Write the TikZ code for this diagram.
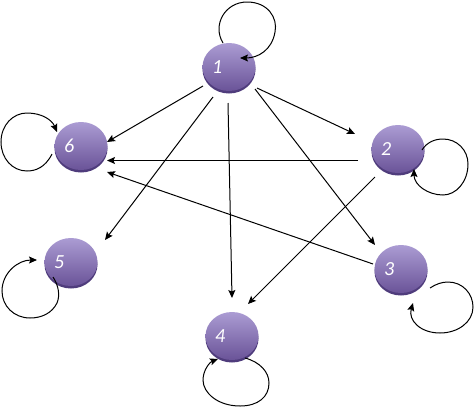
\documentclass[tikz,border=0pt]{standalone}
\usepackage{fontspec}
\newfontfamily\lblfont{Carlito}
\usetikzlibrary{arrows.meta,calc,shapes.geometric}
\definecolor{ntop}{HTML}{AB9CD3}
\definecolor{nmid}{HTML}{7C64AA}
\definecolor{nbot}{HTML}{6A5398}
\definecolor{nrim}{HTML}{4F3C7C}
\begin{document}
\begin{tikzpicture}[x=1pt,y=-1pt,
  state/.style={ellipse, minimum width=53pt, minimum height=48pt, inner sep=0pt,
    top color=ntop, middle color=nmid, bottom color=nbot,
    preaction={fill=nrim, transform canvas={yshift=-2.5pt}},
    font=\lblfont\itshape\fontsize{20}{24}\selectfont, text=white},
  edge/.style={line width=1pt, -{Stealth[length=8pt,width=7pt,inset=1.5pt]}},
  loopedge/.style={line width=1pt, -{Stealth[length=8pt,width=7pt,inset=1.5pt]}}]
\useasboundingbox (0,0) rectangle (474,408);
\fill[white] (0,0) rectangle (474,408);
% nodes
\node[state] (n1) at (229,67)  {\makebox[34pt][l]{1}};
\node[state] (n2) at (398,149) {\makebox[34pt][l]{2}};
\node[state] (n3) at (401,269) {\makebox[34pt][l]{3}};
\node[state] (n4) at (232,336) {\makebox[34pt][l]{4}};
\node[state] (n5) at (71,262)  {\makebox[34pt][l]{5}};
\node[state] (n6) at (81,146)  {\makebox[34pt][l]{6}};
% edges
\draw[edge] ($(n1)+(-26,19)$) -- ($(n6)+(26,-4)$);
\draw[edge] ($(n1)+(-16,30)$) -- ($(n5)+(34,-22)$);
\draw[edge] ($(n1)+(-1,36)$) -- ($(n4)+(0,-38)$);
\draw[edge] ($(n1)+(28,21)$) -- ($(n2)+(-43,-15)$);
\draw[edge] ($(n1)+(26,22)$) -- ($(n3)+(-26,-24)$);
\draw[edge] ($(n2)+(-40,11.5)$) -- ($(n6)+(26,14.5)$);
\draw[edge] ($(n3)+(-28,-5)$) -- ($(n6)+(26,26)$);
\draw[edge] ($(n2)+(-23,28)$) -- ($(n4)+(16,-32)$);
% self loops
\draw[loopedge] ($(n1)+(-6,-24)$) .. controls (212,25) and (225,2) .. (247,2)
  .. controls (268,2) and (278,18) .. (275,32)
  .. controls (272,50) and (258,58) .. ($(n1)+(11,-9)$);
\draw[loopedge] ($(n6)+(-29,8)$) .. controls (45,168) and (35,171) .. (27,171)
  .. controls (12,171) and (1,158) .. (1,142)
  .. controls (1,125) and (13,113) .. (27,113)
  .. controls (42,113) and (52,120) .. ($(n6)+(-24,-14)$);
\draw[loopedge] ($(n5)+(-18,15)$) .. controls (59,286) and (60,296) .. (57,303)
  .. controls (52,313) and (42,318) .. (30,318)
  .. controls (14,318) and (2,306) .. (2,291)
  .. controls (2,273) and (18,260) .. ($(n5)+(-34,-2)$);
\draw[loopedge] ($(n2)+(24,1)$) .. controls (427,142) and (435,139) .. (443,139)
  .. controls (457,139) and (468,150) .. (468,164)
  .. controls (468,182) and (456,195) .. (443,195)
  .. controls (428,195) and (414,185) .. ($(n2)+(16,20)$);
\draw[loopedge] ($(n3)+(29,19)$) .. controls (436,284) and (442,282) .. (448,282)
  .. controls (463,282) and (473,294) .. (473,307)
  .. controls (473,322) and (458,333) .. (440,333)
  .. controls (420,333) and (408,320) .. ($(n3)+(12,34)$);
\draw[loopedge] ($(n4)+(13,22)$) .. controls (260,362) and (269,372) .. (269,383)
  .. controls (269,397) and (258,406) .. (240,406)
  .. controls (218,406) and (203,393) .. (203,380)
  .. controls (203,370) and (210,362) .. ($(n4)+(-14,23)$);
\end{tikzpicture}
\end{document}
